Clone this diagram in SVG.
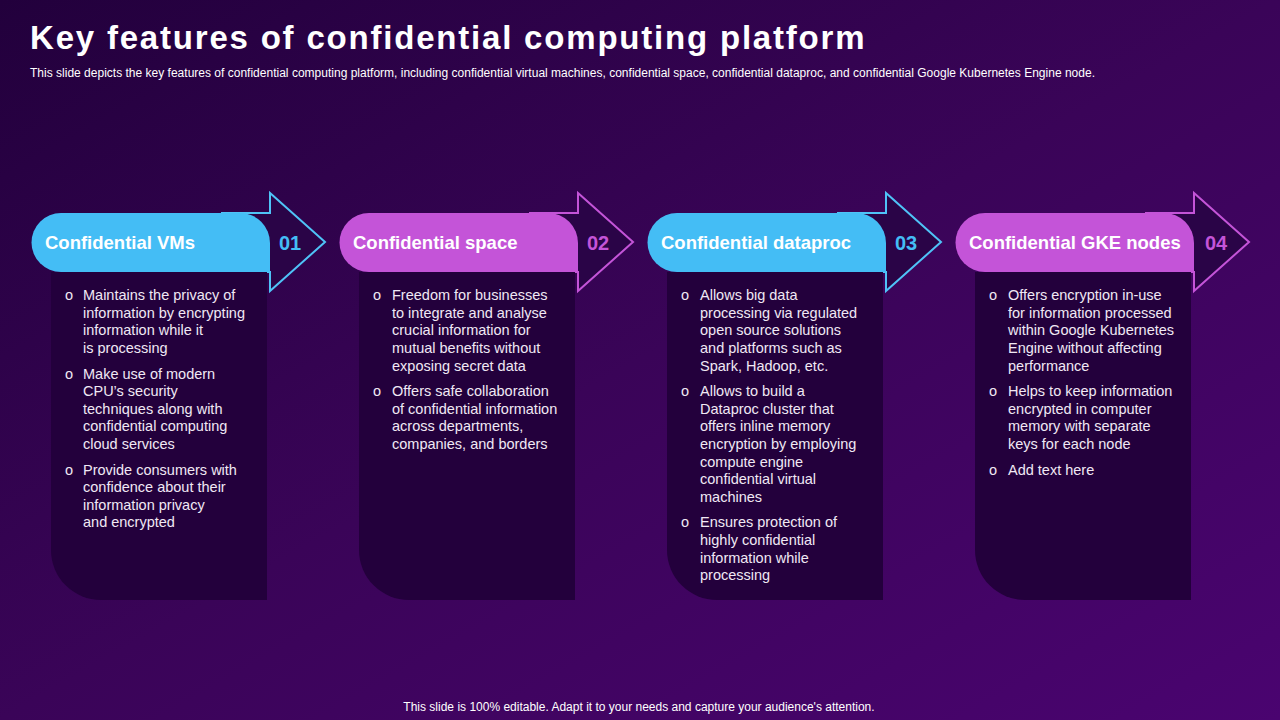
<svg xmlns="http://www.w3.org/2000/svg" width="1280" height="720" viewBox="0 0 1280 720">
<defs>
<linearGradient id="bg" x1="0" y1="0" x2="1" y2="1">
<stop offset="0" stop-color="#22003c"/><stop offset="0.5" stop-color="#3a0458"/><stop offset="1" stop-color="#4a0470"/>
</linearGradient>
<style>
.t{font-family:"Liberation Sans",Arial,sans-serif;fill:#fff}
.h{font-size:18.5px;font-weight:bold}
.n{font-size:20px;font-weight:bold}
.b{font-size:14.5px;fill:#f0e8f4}
.body{fill:#23003c}
.arr{fill:#2a0447;stroke-width:2}
</style>
<g id="shape">
<path class="body" d="M19 272 H235 V600 H69 A50 50 0 0 1 19 550 Z"/>
</g>
</defs>
<rect width="1280" height="720" fill="url(#bg)"/>
<text class="t" x="30" y="49" font-size="33" font-weight="bold" style="font-family:'Liberation Sans',Arial,sans-serif;letter-spacing:1.8px">Key features of confidential computing platform</text>
<text class="t" x="30" y="77" font-size="12" textLength="1065">This slide depicts the key features of confidential computing platform, including confidential virtual machines, confidential space, confidential dataproc, and confidential Google Kubernetes Engine node.</text>
<text class="t" x="639" y="711" font-size="12" text-anchor="middle">This slide is 100% editable. Adapt it to your needs and capture your audience's attention.</text>

<g id="node1" transform="translate(32,0)">
<path class="arr" stroke="#4fc3f7" d="M190 213 H238 V193 L293 242 L238 291 V272 H190 Z"/>
<use href="#shape"/>
<path fill="#44bdf5" d="M29 213 H208 A30 30 0 0 1 238 243 V272 H29 A29.5 29.5 0 0 1 29 213 Z"/>
<text class="t h" x="13" y="249">Confidential VMs</text>
<text class="t n" x="258" y="250" style="fill:#44bdf5" text-anchor="middle">01</text>
<g class="t b">
<text x="33" y="300">o</text>
<text x="51" y="300">Maintains the privacy of</text><text x="51" y="318">information by encrypting</text><text x="51" y="335">information while it</text><text x="51" y="353">is processing</text>
<text x="33" y="379">o</text>
<text x="51" y="379">Make use of modern</text><text x="51" y="396">CPU’s security</text><text x="51" y="414">techniques along with</text><text x="51" y="431">confidential computing</text><text x="51" y="449">cloud services</text>
<text x="33" y="475">o</text>
<text x="51" y="475">Provide consumers with</text><text x="51" y="492">confidence about their</text><text x="51" y="510">information privacy</text><text x="51" y="527">and encrypted</text>
</g>
</g>

<g id="node2" transform="translate(340,0)">
<path class="arr" stroke="#c454d8" d="M190 213 H238 V193 L293 242 L238 291 V272 H190 Z"/>
<use href="#shape"/>
<path fill="#c454d8" d="M29 213 H208 A30 30 0 0 1 238 243 V272 H29 A29.5 29.5 0 0 1 29 213 Z"/>
<text class="t h" x="13" y="249">Confidential space</text>
<text class="t n" x="258" y="250" style="fill:#c454d8" text-anchor="middle">02</text>
<g class="t b">
<text x="33" y="300">o</text>
<text x="52" y="300">Freedom for businesses</text><text x="52" y="318">to integrate and analyse</text><text x="52" y="335">crucial information for</text><text x="52" y="353">mutual benefits without</text><text x="52" y="371">exposing secret data</text>
<text x="33" y="396">o</text>
<text x="52" y="396">Offers safe collaboration</text><text x="52" y="414">of confidential information</text><text x="52" y="431">across departments,</text><text x="52" y="449">companies, and borders</text>
</g>
</g>

<g id="node3" transform="translate(648,0)">
<path class="arr" stroke="#4fc3f7" d="M190 213 H238 V193 L293 242 L238 291 V272 H190 Z"/>
<use href="#shape"/>
<path fill="#44bdf5" d="M29 213 H208 A30 30 0 0 1 238 243 V272 H29 A29.5 29.5 0 0 1 29 213 Z"/>
<text class="t h" x="13" y="249">Confidential dataproc</text>
<text class="t n" x="258" y="250" style="fill:#44bdf5" text-anchor="middle">03</text>
<g class="t b">
<text x="33" y="300">o</text>
<text x="52" y="300">Allows big data</text><text x="52" y="318">processing via regulated</text><text x="52" y="335">open source solutions</text><text x="52" y="353">and platforms such as</text><text x="52" y="371">Spark, Hadoop, etc.</text>
<text x="33" y="396">o</text>
<text x="52" y="396">Allows to build a</text><text x="52" y="414">Dataproc cluster that</text><text x="52" y="431">offers inline memory</text><text x="52" y="449">encryption by employing</text><text x="52" y="467">compute engine</text><text x="52" y="484">confidential virtual</text><text x="52" y="502">machines</text>
<text x="33" y="527">o</text>
<text x="52" y="527">Ensures protection of</text><text x="52" y="545">highly confidential</text><text x="52" y="563">information while</text><text x="52" y="580">processing</text>
</g>
</g>

<g id="node4" transform="translate(956,0)">
<path class="arr" stroke="#c454d8" d="M190 213 H238 V193 L293 242 L238 291 V272 H190 Z"/>
<use href="#shape"/>
<path fill="#c454d8" d="M29 213 H208 A30 30 0 0 1 238 243 V272 H29 A29.5 29.5 0 0 1 29 213 Z"/>
<text class="t h" x="13" y="249">Confidential GKE nodes</text>
<text class="t n" x="260" y="250" style="fill:#c454d8" text-anchor="middle">04</text>
<g class="t b">
<text x="33" y="300">o</text>
<text x="52" y="300">Offers encryption in-use</text><text x="52" y="318">for information processed</text><text x="52" y="335">within Google Kubernetes</text><text x="52" y="353">Engine without affecting</text><text x="52" y="371">performance</text>
<text x="33" y="396">o</text>
<text x="52" y="396">Helps to keep information</text><text x="52" y="414">encrypted in computer</text><text x="52" y="431">memory with separate</text><text x="52" y="449">keys for each node</text>
<text x="33" y="475">o</text>
<text x="52" y="475">Add text here</text>
</g>
</g>
<g id="connectors"/>
</svg>
